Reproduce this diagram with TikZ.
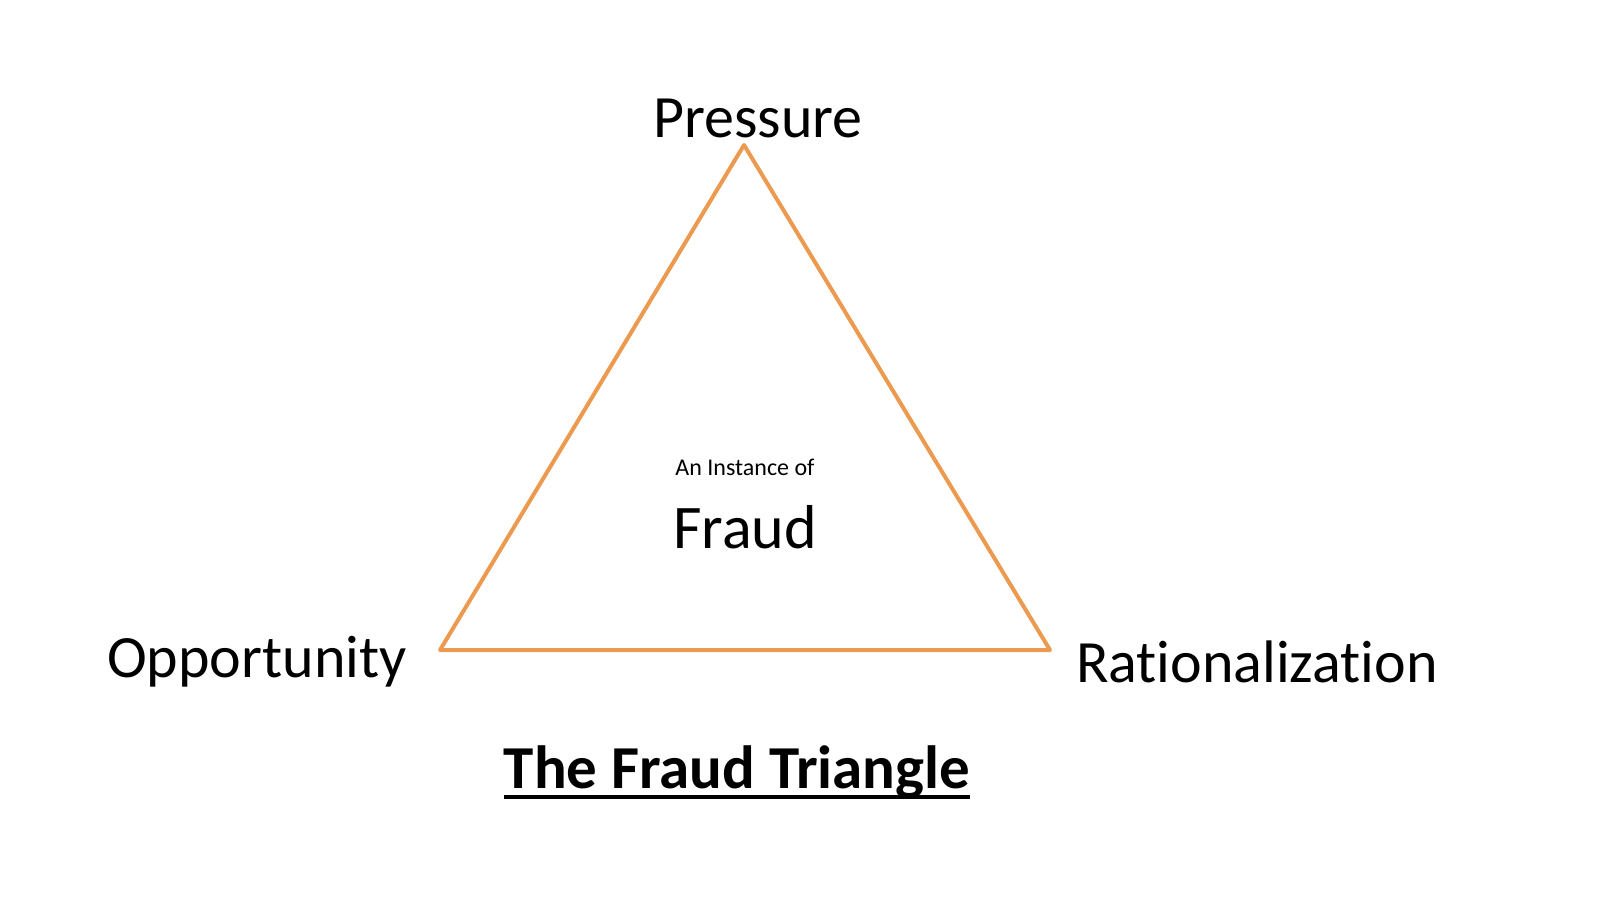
\documentclass[tikz,border=0pt]{standalone}
\usepackage{fontspec}
\setmainfont[RawFeature={-liga;-clig;-dlig}]{Carlito}
\begin{document}
\begin{tikzpicture}[x=1pt,y=-1pt,
 lbl/.style={inner sep=0pt,font=\fontsize{60}{66}\selectfont}]
\useasboundingbox (0,0) rectangle (1600,909);
\definecolor{tri}{HTML}{EB9A50}
\coordinate (T) at (744,145);
\coordinate (L) at (440,650);
\coordinate (R) at (1050,650);
\draw[tri,line width=4pt,line join=round] (T) -- (L) -- (R) -- cycle;
\node[lbl] (p) at (758,118) {Pressure};
\node[lbl] (o) at (257,662) {Opportunity};
\node[lbl] (r) at (1257,662) {Rationalization};
\node[inner sep=0pt,font=\fontsize{24}{28}\selectfont] (i) at (745,467) {An Instance of};
\node[lbl,font=\fontsize{62}{68}\selectfont] (f) at (745,527) {Fraud};
\node[lbl,font=\bfseries\fontsize{61}{66}\selectfont,anchor=base] (t) at (737,788) {The Fraud Triangle};
\draw[line width=4pt] (t.base west) ++(0,9) -- ([yshift=-9pt]t.base east);
\end{tikzpicture}
\end{document}
